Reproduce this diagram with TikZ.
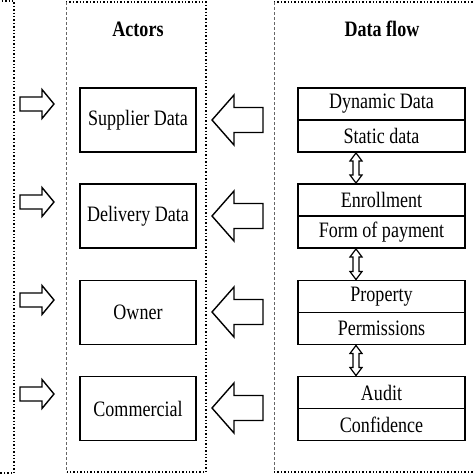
\documentclass[tikz,border=0pt]{standalone}
\usepackage{fontspec}
\setmainfont{Liberation Serif}[FakeStretch=0.82]
\usetikzlibrary{calc}
\begin{document}
\begin{tikzpicture}[x=1pt,y=-1pt,
  frameedge/.style={dotted, line width=1.4pt},
  frameleft/.style={densely dashed, line width=0.6pt, black!60},
  txt/.style={font=\fontsize{22pt}{25pt}\selectfont},
  actorbox/.style={txt, draw, line width=1.9pt, minimum width=116pt, minimum height=64pt, inner sep=0pt},
  flowbox/.style={txt, draw, line width=1.9pt, minimum width=167pt, minimum height=32pt, inner sep=0pt},
  hollow/.style={draw, line width=1.4pt, fill=white, line join=miter},
  title/.style={font=\fontsize{22pt}{25pt}\selectfont\bfseries}
  ]
\useasboundingbox (0,0) rectangle (474,474);
\clip (0,0) rectangle (474,474);
\fill[white] (0,0) rectangle (474,474);

% frames
\draw[frameedge] (-5,1) -- (14,1) -- (14,473) -- (-5,473);
\draw[frameedge] (66,2) -- (206,2) -- (206,472) -- (66,472);
\draw[frameleft] (66,2) -- (66,472);
\draw[frameedge] (274,2) -- (480,2);
\draw[frameedge] (274,472) -- (480,472);
\draw[frameleft] (274,2) -- (274,472);

% titles
\node[title] (ta) at (138,29) {Actors};
\node[title] (tf) at (382,29) {Data flow};

% actor boxes
\node[actorbox] (sup) at (138,120) {Supplier Data};
\node[actorbox] (del) at (138,216) {Delivery Data};
\node[actorbox] (own) at (138,312.5) {Owner};
\node[actorbox] (com) at (138,408.5) {Commercial};

% flow boxes
\node[flowbox] (dyn) at (381.5,104) {Dynamic Data};
\node[flowbox] (sta) at (381.5,136) {Static data};
\node[flowbox] (enr) at (381.5,200) {Enrollment};
\node[flowbox] (pay) at (381.5,232) {Form of payment};
\node[flowbox] (pro) at (381.5,296.5) {Property};
\node[flowbox] (per) at (381.5,328.5) {Permissions};
\node[flowbox] (aud) at (381.5,392.5) {Audit};
\node[flowbox] (con) at (381.5,424.5) {Confidence};

% left hollow arrows
\foreach \yc in {104,202,300,394}{
  \draw[hollow] (20,\yc-7) -- (42,\yc-7) -- (42,\yc-14.5) -- (54,\yc)
     -- (42,\yc+14.5) -- (42,\yc+7) -- (20,\yc+7) -- cycle;
}

% middle hollow arrows
\foreach \yc in {120,216,312,408}{
  \draw[hollow] (212,\yc) -- (234,\yc-25) -- (234,\yc-12.5) -- (263,\yc-12.5)
     -- (263,\yc+12.5) -- (234,\yc+12.5) -- (234,\yc+25) -- cycle;
}

% double arrows between flow groups (axis 25.5pt left of box centre)
\foreach \a/\b in {sta/enr,pay/pro,per/aud}{
  \draw[hollow, line width=1.2pt] ($(\a.south)+(-25.5,0)$) -- ($(\a.south)+(-19.5,8)$) -- ($(\a.south)+(-22.5,8)$)
     -- ($(\b.north)+(-22.5,-8)$) -- ($(\b.north)+(-19.5,-8)$) -- ($(\b.north)+(-25.5,0)$)
     -- ($(\b.north)+(-31.5,-8)$) -- ($(\b.north)+(-28.5,-8)$) -- ($(\a.south)+(-28.5,8)$)
     -- ($(\a.south)+(-31.5,8)$) -- cycle;
}
\end{tikzpicture}
\end{document}
